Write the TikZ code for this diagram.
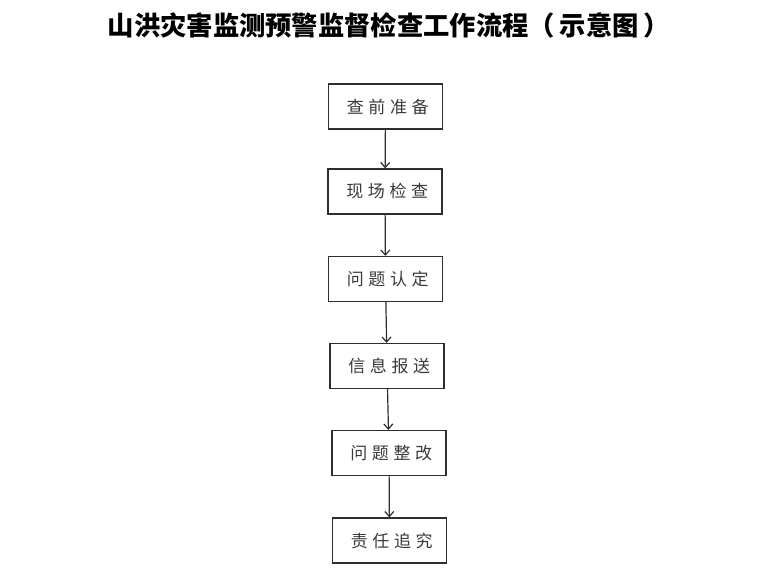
\documentclass[tikz,border=0pt]{standalone}
\usepackage{fontspec}
\usepackage{xcolor}
\usepackage{tikz}
\usetikzlibrary{positioning,arrows.meta}
\newfontfamily\cjkbox[LetterSpace=27]{Noto Sans CJK SC}
\newfontfamily\cjktitle{Noto Sans CJK SC}
\definecolor{linegray}{HTML}{2E2E2E}
\definecolor{textgray}{HTML}{3A3A3A}
\tikzset{
	stepbox/.style={draw=linegray, line width=1.3pt, minimum width=114pt, minimum height=45pt,
		inner sep=0pt, text=textgray, font=\cjkbox\fontsize{17pt}{17pt}\selectfont},
	flow/.style={draw=linegray, line width=1.2pt, -{Straight Barb[length=5pt,width=9pt]}},
	headline/.style={font=\cjktitle\bfseries\fontsize{26.3pt}{26.3pt}\selectfont, text=black}
}
\begin{document}
\begin{tikzpicture}[x=1pt, y=-1pt]
	\useasboundingbox (0,0) rectangle (760,570);
	\node[headline] (title) at (389,25) {山洪灾害监测预警监督检查工作流程（\hspace{5pt}示意图\hspace{5pt}）};
	\node[stepbox] (prep) at (385.5,106.5) {\hspace*{4.6pt}查前准备};
	\node[stepbox] (site) at (385,191.5) {\hspace*{4.6pt}现场检查};
	\node[stepbox] (ident) at (385.5,279) {\hspace*{4.6pt}问题认定};
	\node[stepbox] (report) at (387,366) {\hspace*{4.6pt}信息报送};
	\node[stepbox] (fix) at (389,453) {\hspace*{4.6pt}问题整改};
	\node[stepbox] (blame) at (389.5,540.5) {\hspace*{4.6pt}责任追究};
	\draw[flow] (prep) -- (site);
	\draw[flow] (site) -- (ident);
	\draw[flow] (ident) -- (report);
	\draw[flow] (report) -- (fix);
	\draw[flow] (fix) -- (blame);
\end{tikzpicture}
\end{document}
